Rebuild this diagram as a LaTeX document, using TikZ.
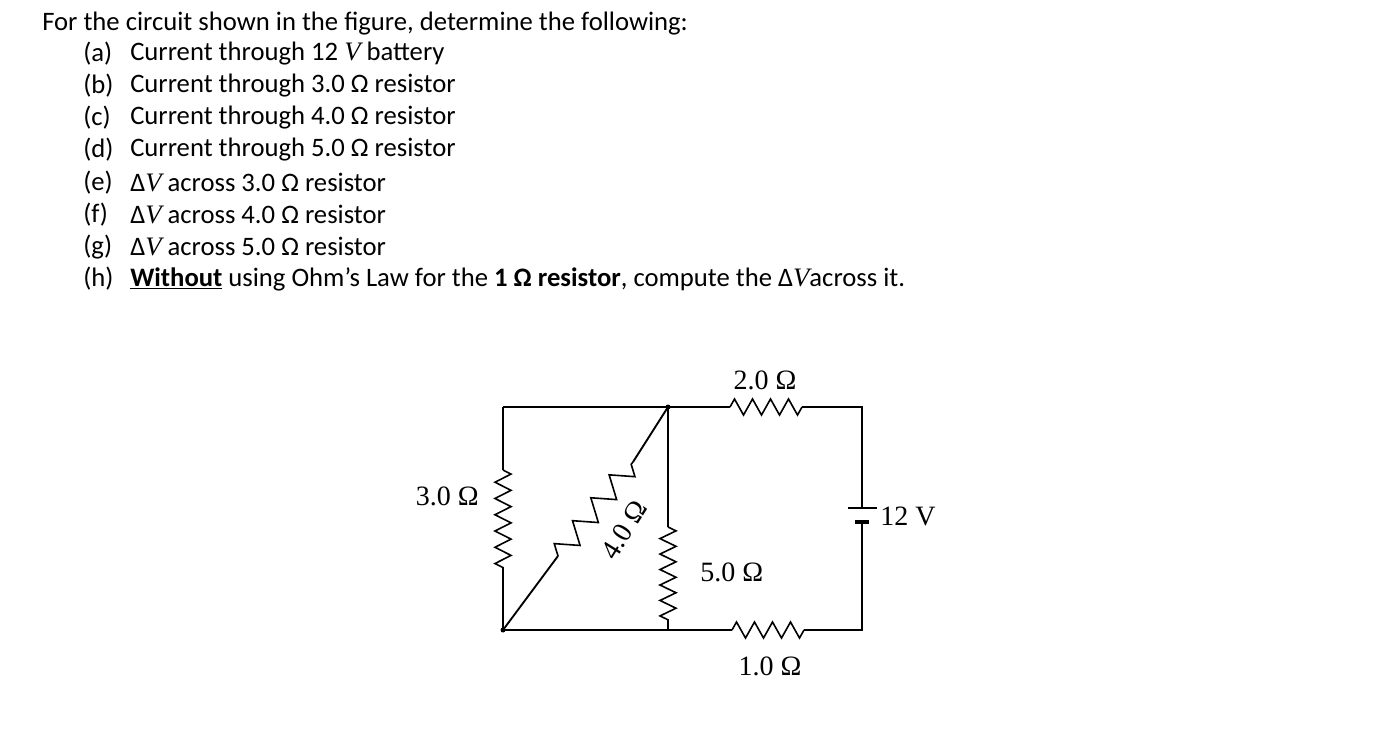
\documentclass[tikz,border=0pt]{standalone}
\usepackage{fontspec}
\setmainfont{Carlito}
\newfontfamily\tnr{Liberation Serif}
\usetikzlibrary{decorations.pathmorphing}
\begin{document}
\begin{tikzpicture}[x=0.75pt,y=-0.75pt,
  wire/.style={line width=1.4pt},
  res/.style={line width=1.2pt,decorate,decoration={zigzag,segment length=#1,amplitude=6pt}},
  txt/.style={anchor=west,font=\fontsize{20}{22}\selectfont,inner sep=0pt},
  clab/.style={font=\tnr\fontsize{21}{24}\selectfont,inner sep=0pt}]
\useasboundingbox (0,0) rectangle (1378,736);
\newcommand{\iv}{{\tnr\itshape V}}
\node[txt] (t0) at (42,24) {For the circuit shown in the figure, determine the following:};
\node[txt] (la) at (83,54) {(a)}; \node[txt] (ta) at (130,54) {Current through 12 \iv\ battery};
\node[txt] (lb) at (83,86) {(b)}; \node[txt] (tb) at (130,86) {Current through 3.0 Ω resistor};
\node[txt] (lc) at (83,118) {(c)}; \node[txt] (tc) at (130,118) {Current through 4.0 Ω resistor};
\node[txt] (ld) at (83,150) {(d)}; \node[txt] (td) at (130,150) {Current through 5.0 Ω resistor};
\node[txt] (le) at (83,183) {(e)}; \node[txt] (te) at (130,183) {Δ\iv\ across 3.0 Ω resistor};
\node[txt] (lf) at (83,215) {(f)}; \node[txt] (tf) at (130,215) {Δ\iv\ across 4.0 Ω resistor};
\node[txt] (lg) at (83,247) {(g)}; \node[txt] (tg) at (130,247) {Δ\iv\ across 5.0 Ω resistor};
\node[txt] (lh) at (83,279) {(h)}; \node[txt] (th) at (130,279) {\textbf{\underline{Without}} using Ohm’s Law for the \textbf{1 Ω resistor}, compute the Δ\iv across it.};
% circuit coordinates
\coordinate (TL) at (503,407); \coordinate (TM) at (668,407); \coordinate (TR) at (862,407);
\coordinate (BL) at (503,630); \coordinate (BM) at (668,630); \coordinate (BR) at (862,630);
\coordinate (r3a) at (503,470); \coordinate (r3b) at (503,568);
\coordinate (r5a) at (668,527); \coordinate (r5b) at (668,620);
\coordinate (r2a) at (730,407); \coordinate (r2b) at (802,407);
\coordinate (r1a) at (732,630); \coordinate (r1b) at (804,630);
\coordinate (r4a) at (558,556); \coordinate (r4b) at (633,462);
\coordinate (bt1) at (862,508); \coordinate (bt2) at (862,522);
\draw[wire] (TL) -- (TM) -- (r2a); \draw[wire] (r2b) -- (TR) -- (bt1);
\draw[wire] (bt2) -- (BR) -- (r1b); \draw[wire] (r1a) -- (BM) -- (BL) -- (r3b);
\draw[wire] (r3a) -- (TL);
\draw[wire] (TM) -- (r5a); \draw[wire] (r5b) -- (BM);
\draw[wire] (BL) -- (r4a); \draw[wire] (r4b) -- (TM);
\draw[res=12.2pt] (r3a) -- (r3b);
\draw[res=11.6pt] (r5a) -- (r5b);
\draw[res=13.5pt] (r2a) -- (r2b);
\draw[res=13.5pt] (r1a) -- (r1b);
\draw[res=22pt,decoration={amplitude=8pt}] (r4a) -- (r4b);
\draw[line width=1.4pt] (848,508) -- (877,508);
\draw[line width=3pt] (855,522) -- (869,522);
\fill (TM) circle (2.5); \fill (BL) circle (2.5);
\node[clab] (l2) at (765,380) {2.0 Ω};
\node[clab,anchor=east] (l3) at (479,496) {3.0 Ω};
\node[clab,rotate=58] (l4) at (624,530) {4.0 Ω};
\node[clab,anchor=west] (l5) at (700,572) {5.0 Ω};
\node[clab,anchor=west] (l12) at (880,516) {12 V};
\node[clab] (l1) at (770,666) {1.0 Ω};
\end{tikzpicture}
\end{document}
